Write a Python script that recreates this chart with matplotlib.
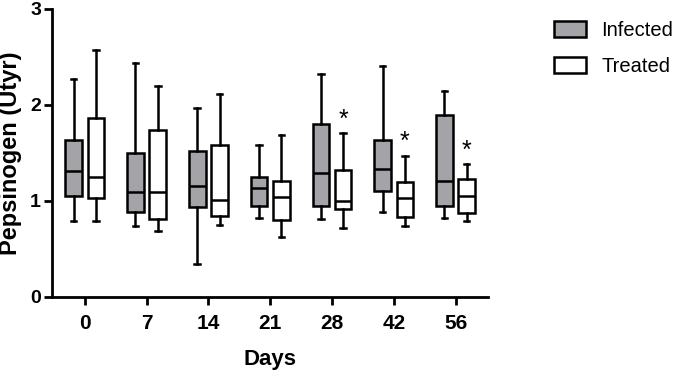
import matplotlib.pyplot as plt
from matplotlib.patches import Patch

plt.rcParams['font.family'] = ['Liberation Sans', 'DejaVu Sans']

# Data (Pepsinogen, Utyr)
days = ["0", "7", "14", "21", "28", "42", "56"]

inf_min = [0.79, 0.74, 0.34, 0.82, 0.81, 0.88, 0.82]
inf_q1 = [1.055, 0.89, 0.94, 0.95, 0.945, 1.10, 0.95]
inf_med = [1.31, 1.09, 1.16, 1.135, 1.29, 1.33, 1.21]
inf_q3 = [1.64, 1.50, 1.52, 1.25, 1.80, 1.63, 1.90]
inf_max = [2.27, 2.44, 1.97, 1.58, 2.32, 2.41, 2.15]

trt_min = [0.79, 0.69, 0.75, 0.62, 0.72, 0.74, 0.79]
trt_q1 = [1.03, 0.81, 0.84, 0.80, 0.915, 0.83, 0.875]
trt_med = [1.25, 1.09, 1.01, 1.045, 1.00, 1.03, 1.05]
trt_q3 = [1.86, 1.74, 1.58, 1.21, 1.32, 1.195, 1.23]
trt_max = [2.57, 2.20, 2.11, 1.69, 1.705, 1.47, 1.38]

signif = [False, False, False, False, True, True, True]


def make_stats(lo, q1, med, q3, hi):
    return [dict(whislo=a, q1=b, med=c, q3=d, whishi=e, fliers=[])
            for a, b, c, d, e in zip(lo, q1, med, q3, hi)]


fig = plt.figure(figsize=(6.85, 3.74), dpi=100)
ax = fig.add_axes([0.076, 0.206, 0.636, 0.770])

pos = list(range(len(days)))
off = 0.18
w = 0.27
lw = 1.8

for stats, shift, color in [
    (make_stats(inf_min, inf_q1, inf_med, inf_q3, inf_max), -off, "#a4a4a8"),
    (make_stats(trt_min, trt_q1, trt_med, trt_q3, trt_max), off, "white"),
]:
    ax.bxp(stats, positions=[p + shift for p in pos], widths=w,
           patch_artist=True, showfliers=False,
           boxprops=dict(facecolor=color, edgecolor="black", linewidth=lw),
           medianprops=dict(color="black", linewidth=lw),
           whiskerprops=dict(color="black", linewidth=lw),
           capprops=dict(color="black", linewidth=lw),
           capwidths=0.09)

for p, hi, s in zip(pos, trt_max, signif):
    if s:
        ax.text(p + off, hi + 0.02, "*", ha="center", va="bottom", fontsize=18)

ax.set_xlim(-0.53, 6.52)
ax.set_ylim(0, 3)
ax.set_yticks([0, 1, 2, 3])
ax.set_xticks(pos)
ax.set_xticklabels(days)
for lab in ax.get_yticklabels():
    lab.set_fontweight("bold")
    lab.set_fontsize(14)
for lab in ax.get_xticklabels():
    lab.set_fontweight("bold")
    lab.set_fontsize(15)

ax.spines["top"].set_visible(False)
ax.spines["right"].set_visible(False)
ax.spines["left"].set_linewidth(2)
ax.spines["bottom"].set_linewidth(2)
ax.tick_params(width=2, length=6)
ax.tick_params(axis="x", pad=6)
ax.tick_params(axis="y", pad=2)

ax.set_xlabel("Days", fontsize=16, fontweight="bold", labelpad=12)
ax.set_ylabel("Pepsinogen (Utyr)", fontsize=17, fontweight="bold", labelpad=6)

handles = [
    Patch(facecolor="#a4a4a8", edgecolor="black", linewidth=1.8, label="Infected"),
    Patch(facecolor="white", edgecolor="black", linewidth=1.8, label="Treated"),
]
fig.legend(handles=handles, loc="upper left", bbox_to_anchor=(0.797, 0.965),
           frameon=False, fontsize=14.5, handlelength=1.6, handleheight=0.85,
           handletextpad=0.75, labelspacing=0.85, borderaxespad=0)

fig.savefig("out.png", dpi=100)
